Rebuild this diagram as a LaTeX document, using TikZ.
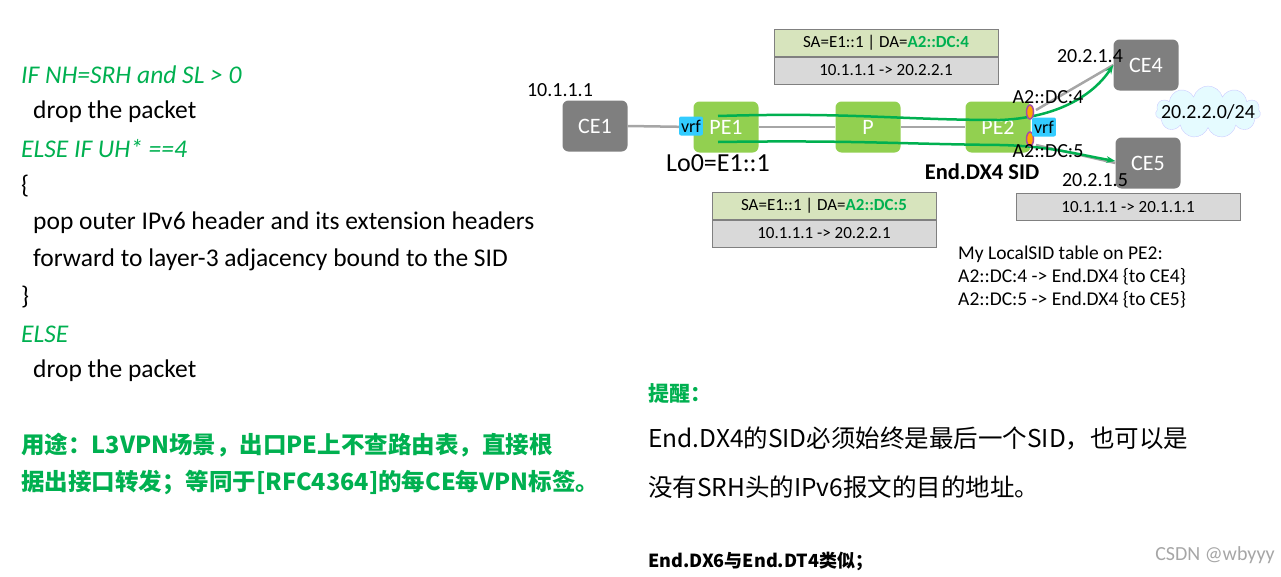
\documentclass[tikz,border=0pt]{standalone}
\usepackage{fontspec}
\setmainfont{Carlito}
\newfontfamily\cjk{Noto Sans CJK SC}
\usetikzlibrary{shapes.symbols,arrows.meta}
\definecolor{gn}{HTML}{00B050}
\definecolor{lg}{HTML}{92D050}
\definecolor{dg}{HTML}{7F7F7F}
\definecolor{cy}{HTML}{33CCFF}
\definecolor{pk1}{HTML}{D7E4BD}
\definecolor{pk2}{HTML}{D9D9D9}
\begin{document}
\begin{tikzpicture}[x=1pt,y=-1pt,
 dev/.style={rounded corners=6pt,minimum width=65pt,minimum height=51pt,text=white,font=\fontsize{22}{22}\selectfont,inner sep=0},
 ce/.style={dev,fill=dg},
 pe/.style={dev,fill=lg},
 vrf/.style={fill=cy,rounded corners=2pt,font=\fontsize{18}{18}\selectfont,inner sep=2pt,minimum height=19pt},
 pkt/.style={draw=gray,minimum width=224pt,minimum height=27pt,inner sep=0,font=\fontsize{17}{17}\selectfont},
 link/.style={draw=black!35,line width=2.5pt},
 flow/.style={draw=gn,line width=2.5pt,-{Stealth[length=9pt]}},
 lbl/.style={font=\fontsize{20}{20}\selectfont,inner sep=0},
 code/.style={anchor=west,font=\fontsize{25.5}{25.5}\selectfont,inner sep=0},
 gcode/.style={code,text=gn,font=\fontsize{25.5}{25.5}\selectfont\itshape}]
\useasboundingbox (0,0) rectangle (1281,576);
% left code
\node[gcode] (l1) at (21,75) {IF NH=SRH and SL > 0};
\node[code] (l2) at (33,112) {drop the packet};
\node[gcode] (l3) at (21,149) {ELSE IF UH* ==4};
\node[code] (l4) at (21,186) {\{};
\node[code] (l5) at (33,223) {pop outer IPv6 header and its extension headers};
\node[code] (l6) at (33,260) {forward to layer-3 adjacency bound to the SID};
\node[code] (l7) at (21,297) {\}};
\node[gcode] (l8) at (21,334) {ELSE};
\node[code] (l9) at (33,371) {drop the packet};
\node[code,text=gn,font=\fontsize{23.5}{23.5}\selectfont\bfseries\cjk] (u1) at (21,445) {用途：L3VPN场景，出口PE上不查路由表，直接根};
\node[code,text=gn,font=\fontsize{23.5}{23.5}\selectfont\bfseries\cjk] (u2) at (21,483) {据出接口转发；等同于[RFC4364]的每CE每VPN标签。};
% right text
\node[code,text=gn,font=\fontsize{21}{21}\selectfont\bfseries\cjk] (r0) at (648,393) {提醒：};
\node[code,font=\fontsize{24.5}{24.5}\selectfont\cjk] (r1) at (648,438) {End.DX4的SID必须始终是最后一个SID，也可以是};
\node[code,font=\fontsize{24.5}{24.5}\selectfont\cjk] (r2) at (648,487) {没有SRH头的IPv6报文的目的地址。};
\node[code,font=\fontsize{18}{18}\selectfont\bfseries\cjk] (r3) at (648,561) {End.DX6与End.DT4类似；};
\node[anchor=east,text=black!35,font=\fontsize{20}{20}\selectfont,inner sep=0] (wm) at (1275,555) {CSDN @wbyyy};
% cloud
\node[cloud,cloud puffs=11,aspect=2.2,fill=blue!15!cyan!10!white,draw=blue!20,minimum width=105pt,minimum height=52pt] (cl) at (1208,112) {};
\node[lbl] at (cl) {20.2.2.0/24};
% devices
\node[ce] (ce1) at (595,126) {CE1};
\node[pe] (pe1) at (726,127) {PE1};
\node[pe] (p) at (868,127) {P};
\node[pe] (pe2) at (998,127) {PE2};
\node[ce] (ce4) at (1146,65) {CE4};
\node[ce] (ce5) at (1148,163) {CE5};
\draw[link] (ce1.east) -- (pe1.west);
\draw[link] (pe1.east) -- (p.west);
\draw[link] (p.east) -- (pe2.west);
\draw[link] (1036,110) -- (ce4.west);
\draw[link] (1036,145) -- (ce5.west);
\node[vrf] (v1) at (691,126) {vrf};
% flows
\coordinate (f1) at (718,116);
\coordinate (f2) at (718,142);
\draw[flow] (f1) .. controls (850,112) and (900,120) .. (1000,120) .. controls (1050,118) and (1090,100) .. (ce4.west);
\draw[flow] (f2) .. controls (850,140) and (900,144) .. (1000,145) .. controls (1050,146) and (1080,155) .. ([yshift=2pt]ce5.west);
\draw[draw=violet!70,fill=orange!70!yellow,line width=1.5pt] (1030,112) ellipse (3.5pt and 7pt);
\draw[draw=violet!70,fill=orange!70!yellow,line width=1.5pt] (1030,139) ellipse (3.5pt and 7pt);
\node[vrf] (v2) at (1044,127) {vrf};
% labels
\node[lbl] (t1) at (560,90) {10.1.1.1};
\node[lbl,font=\fontsize{26}{26}\selectfont] (t2) at (718,163) {Lo0=E1::1};
\node[lbl,font=\fontsize{22.5}{22.5}\selectfont\bfseries] (t3) at (982,172) {End.DX4 SID};
\node[lbl] (t4) at (1090,56) {20.2.1.4};
\node[lbl] (t5) at (1048,97) {A2::DC:4};
\node[lbl] (t6) at (1048,151) {A2::DC:5};
\node[lbl] (t7) at (1095,180) {20.2.1.5};
% packets
\node[pkt,fill=pk1] (a1) at (886,43) {SA=E1::1 | DA=\textcolor{gn}{\bfseries A2::DC:4}};
\node[pkt,fill=pk2,anchor=north] (a2) at (a1.south) {10.1.1.1 -> 20.2.2.1};
\node[pkt,fill=pk1] (b1) at (824,206) {SA=E1::1 | DA=\textcolor{gn}{\bfseries A2::DC:5}};
\node[pkt,fill=pk2,anchor=north] (b2) at (b1.south) {10.1.1.1 -> 20.2.2.1};
\node[pkt,fill=pk2] (c1) at (1128,207) {10.1.1.1 -> 20.1.1.1};
% local sid
\node[anchor=north west,align=left,font=\fontsize{19.5}{23}\selectfont,inner sep=0] (ls) at (958,246) {My LocalSID table on PE2:\\A2::DC:4 -> End.DX4 \{to CE4\}\\A2::DC:5 -> End.DX4 \{to CE5\}};
\end{tikzpicture}
\end{document}
